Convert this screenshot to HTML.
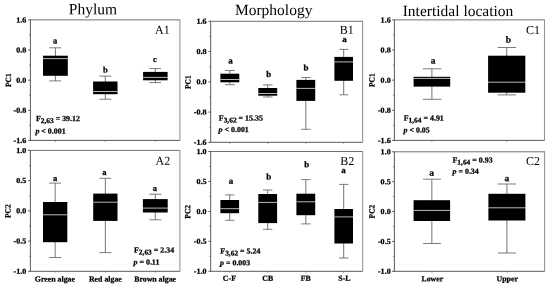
<!DOCTYPE html>
<html><head><meta charset="utf-8"><title>Box plots</title>
<style>
html,body{margin:0;padding:0;background:#fff;}
svg{display:block;font-family:"Liberation Serif",serif;fill:#000;}
text[font-weight="bold"]{stroke:#000;stroke-width:0.25px;}
</style></head><body>
<svg width="550" height="287" viewBox="0 0 550 287">
<rect width="550" height="287" fill="#fff"/>
<text transform="translate(68.80,14.20) rotate(0.03)" font-size="15.5" text-anchor="start" font-weight="normal" >Phylum</text>
<text transform="translate(234.90,15.00) rotate(0.03)" font-size="15.5" text-anchor="start" font-weight="normal" >Morphology</text>
<text transform="translate(402.70,16.00) rotate(0.03)" font-size="15.5" text-anchor="start" font-weight="normal" >Intertidal location</text>
<line x1="30.40" y1="19.40" x2="30.40" y2="140.90" stroke="#5a5a5a" stroke-width="1"/>
<line x1="30.40" y1="140.40" x2="179.90" y2="140.40" stroke="#5a5a5a" stroke-width="1"/>
<line x1="30.40" y1="19.90" x2="179.90" y2="19.90" stroke="#707070" stroke-width="1"/>
<line x1="179.90" y1="19.40" x2="179.90" y2="140.90" stroke="#969696" stroke-width="1.1"/>
<line x1="28.10" y1="19.90" x2="30.40" y2="19.90" stroke="#5a5a5a" stroke-width="1"/>
<text transform="translate(26.30,22.40) scale(1.05,1) rotate(0.03)" font-size="7.7" text-anchor="end" font-weight="bold" >1.6</text>
<line x1="29.10" y1="34.96" x2="30.40" y2="34.96" stroke="#5a5a5a" stroke-width="0.8"/>
<line x1="28.10" y1="50.02" x2="30.40" y2="50.02" stroke="#5a5a5a" stroke-width="1"/>
<text transform="translate(26.30,52.52) scale(1.05,1) rotate(0.03)" font-size="7.7" text-anchor="end" font-weight="bold" >0.8</text>
<line x1="29.10" y1="65.09" x2="30.40" y2="65.09" stroke="#5a5a5a" stroke-width="0.8"/>
<line x1="28.10" y1="80.15" x2="30.40" y2="80.15" stroke="#5a5a5a" stroke-width="1"/>
<text transform="translate(26.30,82.65) scale(1.05,1) rotate(0.03)" font-size="7.7" text-anchor="end" font-weight="bold" >0.0</text>
<line x1="29.10" y1="95.21" x2="30.40" y2="95.21" stroke="#5a5a5a" stroke-width="0.8"/>
<line x1="28.10" y1="110.28" x2="30.40" y2="110.28" stroke="#5a5a5a" stroke-width="1"/>
<text transform="translate(26.30,112.78) scale(1.05,1) rotate(0.03)" font-size="7.7" text-anchor="end" font-weight="bold" >-0.8</text>
<line x1="29.10" y1="125.34" x2="30.40" y2="125.34" stroke="#5a5a5a" stroke-width="0.8"/>
<line x1="28.10" y1="140.40" x2="30.40" y2="140.40" stroke="#5a5a5a" stroke-width="1"/>
<text transform="translate(26.30,142.90) scale(1.05,1) rotate(0.03)" font-size="7.7" text-anchor="end" font-weight="bold" >-1.6</text>
<text transform="translate(10.90,80.15) rotate(-90.03) scale(0.935,1)" font-size="8.0" text-anchor="middle" font-weight="bold">PC1</text>
<text transform="translate(155.00,33.80) rotate(0.03)" font-size="12" text-anchor="start" font-weight="normal" >A1</text>
<line x1="55.40" y1="47.80" x2="55.40" y2="80.90" stroke="#5c5c5c" stroke-width="0.85"/>
<line x1="49.20" y1="47.80" x2="61.20" y2="47.80" stroke="#646464" stroke-width="0.85"/>
<line x1="49.20" y1="80.90" x2="61.20" y2="80.90" stroke="#646464" stroke-width="0.85"/>
<rect x="43.00" y="55.70" width="24.80" height="20.10" fill="#000"/>
<line x1="43.00" y1="58.60" x2="67.80" y2="58.60" stroke="#e8e8e8" stroke-width="0.8"/>
<text transform="translate(55.20,43.40) scale(1.02,1) rotate(0.03)" font-size="8.4" text-anchor="middle" font-weight="bold" >a</text>
<line x1="55.40" y1="140.40" x2="55.40" y2="141.70" stroke="#5a5a5a" stroke-width="0.8"/>
<line x1="105.30" y1="76.10" x2="105.30" y2="99.20" stroke="#5c5c5c" stroke-width="0.85"/>
<line x1="99.40" y1="76.10" x2="111.30" y2="76.10" stroke="#646464" stroke-width="0.85"/>
<line x1="99.40" y1="99.20" x2="111.30" y2="99.20" stroke="#646464" stroke-width="0.85"/>
<rect x="93.10" y="81.50" width="24.40" height="12.70" fill="#000"/>
<line x1="93.10" y1="91.50" x2="117.50" y2="91.50" stroke="#e8e8e8" stroke-width="0.8"/>
<text transform="translate(105.40,72.60) scale(1.02,1) rotate(0.03)" font-size="8.4" text-anchor="middle" font-weight="bold" >b</text>
<line x1="105.30" y1="140.40" x2="105.30" y2="141.70" stroke="#5a5a5a" stroke-width="0.8"/>
<line x1="155.35" y1="68.60" x2="155.35" y2="82.60" stroke="#5c5c5c" stroke-width="0.85"/>
<line x1="149.40" y1="68.60" x2="161.00" y2="68.60" stroke="#646464" stroke-width="0.85"/>
<line x1="149.40" y1="82.60" x2="161.00" y2="82.60" stroke="#646464" stroke-width="0.85"/>
<rect x="143.10" y="71.90" width="24.50" height="8.40" fill="#000"/>
<line x1="143.10" y1="77.40" x2="167.60" y2="77.40" stroke="#e8e8e8" stroke-width="0.8"/>
<text transform="translate(154.80,62.10) scale(1.02,1) rotate(0.03)" font-size="8.4" text-anchor="middle" font-weight="bold" >c</text>
<line x1="155.35" y1="140.40" x2="155.35" y2="141.70" stroke="#5a5a5a" stroke-width="0.8"/>
<text transform="translate(35.90,121.10) scale(1.03,1) rotate(0.03)" font-size="7.7" font-weight="bold">F<tspan dy="2.0" font-size="7.2">2,63</tspan><tspan dy="-2.0"> = 39.12</tspan></text>
<text transform="translate(35.40,133.50) scale(1.03,1) rotate(0.03)" font-size="7.7" font-weight="bold"><tspan font-style="italic">p</tspan> &lt; 0.001</text>
<line x1="30.40" y1="149.90" x2="30.40" y2="271.80" stroke="#5a5a5a" stroke-width="1"/>
<line x1="30.40" y1="271.30" x2="179.90" y2="271.30" stroke="#5a5a5a" stroke-width="1"/>
<line x1="30.40" y1="150.40" x2="179.90" y2="150.40" stroke="#707070" stroke-width="1"/>
<line x1="179.90" y1="149.90" x2="179.90" y2="271.80" stroke="#969696" stroke-width="1.1"/>
<line x1="28.10" y1="150.40" x2="30.40" y2="150.40" stroke="#5a5a5a" stroke-width="1"/>
<text transform="translate(26.30,152.90) scale(1.05,1) rotate(0.03)" font-size="7.7" text-anchor="end" font-weight="bold" >1.0</text>
<line x1="29.10" y1="165.51" x2="30.40" y2="165.51" stroke="#5a5a5a" stroke-width="0.8"/>
<line x1="28.10" y1="180.62" x2="30.40" y2="180.62" stroke="#5a5a5a" stroke-width="1"/>
<text transform="translate(26.30,183.12) scale(1.05,1) rotate(0.03)" font-size="7.7" text-anchor="end" font-weight="bold" >0.5</text>
<line x1="29.10" y1="195.74" x2="30.40" y2="195.74" stroke="#5a5a5a" stroke-width="0.8"/>
<line x1="28.10" y1="210.85" x2="30.40" y2="210.85" stroke="#5a5a5a" stroke-width="1"/>
<text transform="translate(26.30,213.35) scale(1.05,1) rotate(0.03)" font-size="7.7" text-anchor="end" font-weight="bold" >0.0</text>
<line x1="29.10" y1="225.96" x2="30.40" y2="225.96" stroke="#5a5a5a" stroke-width="0.8"/>
<line x1="28.10" y1="241.08" x2="30.40" y2="241.08" stroke="#5a5a5a" stroke-width="1"/>
<text transform="translate(26.30,243.58) scale(1.05,1) rotate(0.03)" font-size="7.7" text-anchor="end" font-weight="bold" >-0.5</text>
<line x1="29.10" y1="256.19" x2="30.40" y2="256.19" stroke="#5a5a5a" stroke-width="0.8"/>
<line x1="28.10" y1="271.30" x2="30.40" y2="271.30" stroke="#5a5a5a" stroke-width="1"/>
<text transform="translate(26.30,273.80) scale(1.05,1) rotate(0.03)" font-size="7.7" text-anchor="end" font-weight="bold" >-1.0</text>
<text transform="translate(10.50,211.15) rotate(-90.03) scale(0.935,1)" font-size="8.0" text-anchor="middle" font-weight="bold">PC2</text>
<text transform="translate(155.50,164.70) rotate(0.03)" font-size="12" text-anchor="start" font-weight="normal" >A2</text>
<line x1="55.15" y1="183.10" x2="55.15" y2="257.50" stroke="#5c5c5c" stroke-width="0.85"/>
<line x1="49.10" y1="183.10" x2="61.10" y2="183.10" stroke="#646464" stroke-width="0.85"/>
<line x1="49.10" y1="257.50" x2="61.10" y2="257.50" stroke="#646464" stroke-width="0.85"/>
<rect x="43.00" y="202.00" width="24.30" height="40.20" fill="#000"/>
<line x1="43.00" y1="214.80" x2="67.30" y2="214.80" stroke="#e8e8e8" stroke-width="0.8"/>
<text transform="translate(55.10,181.00) scale(1.02,1) rotate(0.03)" font-size="8.4" text-anchor="middle" font-weight="bold" >a</text>
<line x1="55.15" y1="271.30" x2="55.15" y2="272.60" stroke="#5a5a5a" stroke-width="0.8"/>
<line x1="105.35" y1="178.30" x2="105.35" y2="252.60" stroke="#5c5c5c" stroke-width="0.85"/>
<line x1="99.30" y1="178.30" x2="111.20" y2="178.30" stroke="#646464" stroke-width="0.85"/>
<line x1="99.30" y1="252.60" x2="111.20" y2="252.60" stroke="#646464" stroke-width="0.85"/>
<rect x="93.20" y="193.60" width="24.30" height="27.30" fill="#000"/>
<line x1="93.20" y1="202.20" x2="117.50" y2="202.20" stroke="#e8e8e8" stroke-width="0.8"/>
<text transform="translate(104.40,175.00) scale(1.02,1) rotate(0.03)" font-size="8.4" text-anchor="middle" font-weight="bold" >a</text>
<line x1="105.35" y1="271.30" x2="105.35" y2="272.60" stroke="#5a5a5a" stroke-width="0.8"/>
<line x1="155.30" y1="194.20" x2="155.30" y2="219.80" stroke="#5c5c5c" stroke-width="0.85"/>
<line x1="149.30" y1="194.20" x2="161.30" y2="194.20" stroke="#646464" stroke-width="0.85"/>
<line x1="149.30" y1="219.80" x2="161.30" y2="219.80" stroke="#646464" stroke-width="0.85"/>
<rect x="142.90" y="199.10" width="24.80" height="13.40" fill="#000"/>
<line x1="142.90" y1="208.10" x2="167.70" y2="208.10" stroke="#e8e8e8" stroke-width="0.8"/>
<text transform="translate(154.90,190.90) scale(1.02,1) rotate(0.03)" font-size="8.4" text-anchor="middle" font-weight="bold" >a</text>
<line x1="155.30" y1="271.30" x2="155.30" y2="272.60" stroke="#5a5a5a" stroke-width="0.8"/>
<text transform="translate(134.00,252.50) scale(1.03,1) rotate(0.03)" font-size="7.7" font-weight="bold">F<tspan dy="2.0" font-size="7.2">2,63</tspan><tspan dy="-2.0"> = 2.34</tspan></text>
<text transform="translate(133.50,264.40) scale(1.03,1) rotate(0.03)" font-size="7.7" font-weight="bold"><tspan font-style="italic">p</tspan> = 0.11</text>
<text transform="translate(54.90,281.50) scale(1.02,1) rotate(0.03)" font-size="7.7" text-anchor="middle" font-weight="bold" >Green algae</text>
<text transform="translate(105.40,281.50) scale(1.02,1) rotate(0.03)" font-size="7.7" text-anchor="middle" font-weight="bold" >Red algae</text>
<text transform="translate(155.10,281.50) scale(1.02,1) rotate(0.03)" font-size="7.7" text-anchor="middle" font-weight="bold" >Brown algae</text>
<line x1="210.70" y1="20.80" x2="210.70" y2="142.80" stroke="#5a5a5a" stroke-width="1"/>
<line x1="210.70" y1="142.30" x2="362.60" y2="142.30" stroke="#5a5a5a" stroke-width="1"/>
<line x1="210.70" y1="21.30" x2="362.60" y2="21.30" stroke="#707070" stroke-width="1"/>
<line x1="362.60" y1="20.80" x2="362.60" y2="142.80" stroke="#969696" stroke-width="1.1"/>
<line x1="208.40" y1="21.30" x2="210.70" y2="21.30" stroke="#5a5a5a" stroke-width="1"/>
<text transform="translate(206.60,23.80) scale(1.05,1) rotate(0.03)" font-size="7.7" text-anchor="end" font-weight="bold" >1.6</text>
<line x1="209.40" y1="36.43" x2="210.70" y2="36.43" stroke="#5a5a5a" stroke-width="0.8"/>
<line x1="208.40" y1="51.55" x2="210.70" y2="51.55" stroke="#5a5a5a" stroke-width="1"/>
<text transform="translate(206.60,54.05) scale(1.05,1) rotate(0.03)" font-size="7.7" text-anchor="end" font-weight="bold" >0.8</text>
<line x1="209.40" y1="66.68" x2="210.70" y2="66.68" stroke="#5a5a5a" stroke-width="0.8"/>
<line x1="208.40" y1="81.80" x2="210.70" y2="81.80" stroke="#5a5a5a" stroke-width="1"/>
<text transform="translate(206.60,84.30) scale(1.05,1) rotate(0.03)" font-size="7.7" text-anchor="end" font-weight="bold" >0.0</text>
<line x1="209.40" y1="96.93" x2="210.70" y2="96.93" stroke="#5a5a5a" stroke-width="0.8"/>
<line x1="208.40" y1="112.05" x2="210.70" y2="112.05" stroke="#5a5a5a" stroke-width="1"/>
<text transform="translate(206.60,114.55) scale(1.05,1) rotate(0.03)" font-size="7.7" text-anchor="end" font-weight="bold" >-0.8</text>
<line x1="209.40" y1="127.18" x2="210.70" y2="127.18" stroke="#5a5a5a" stroke-width="0.8"/>
<line x1="208.40" y1="142.30" x2="210.70" y2="142.30" stroke="#5a5a5a" stroke-width="1"/>
<text transform="translate(206.60,144.80) scale(1.05,1) rotate(0.03)" font-size="7.7" text-anchor="end" font-weight="bold" >-1.6</text>
<text transform="translate(190.60,82.20) rotate(-90.03) scale(0.935,1)" font-size="8.0" text-anchor="middle" font-weight="bold">PC1</text>
<text transform="translate(339.80,33.70) rotate(0.03)" font-size="12" text-anchor="start" font-weight="normal" >B1</text>
<line x1="229.85" y1="70.50" x2="229.85" y2="84.70" stroke="#5c5c5c" stroke-width="0.85"/>
<line x1="225.00" y1="70.50" x2="234.80" y2="70.50" stroke="#646464" stroke-width="0.85"/>
<line x1="225.00" y1="84.70" x2="234.80" y2="84.70" stroke="#646464" stroke-width="0.85"/>
<rect x="220.40" y="73.70" width="18.90" height="8.60" fill="#000"/>
<line x1="220.40" y1="79.50" x2="239.30" y2="79.50" stroke="#e8e8e8" stroke-width="0.8"/>
<text transform="translate(230.50,63.40) scale(1.02,1) rotate(0.03)" font-size="8.8" text-anchor="middle" font-weight="bold" >a</text>
<line x1="229.85" y1="142.30" x2="229.85" y2="143.60" stroke="#5a5a5a" stroke-width="0.8"/>
<line x1="267.75" y1="84.90" x2="267.75" y2="97.00" stroke="#5c5c5c" stroke-width="0.85"/>
<line x1="263.00" y1="84.90" x2="272.60" y2="84.90" stroke="#646464" stroke-width="0.85"/>
<line x1="263.00" y1="97.00" x2="272.60" y2="97.00" stroke="#646464" stroke-width="0.85"/>
<rect x="258.30" y="88.00" width="18.90" height="7.70" fill="#000"/>
<line x1="258.30" y1="93.50" x2="277.20" y2="93.50" stroke="#e8e8e8" stroke-width="0.8"/>
<text transform="translate(268.70,76.90) scale(1.02,1) rotate(0.03)" font-size="8.8" text-anchor="middle" font-weight="bold" >b</text>
<line x1="267.75" y1="142.30" x2="267.75" y2="143.60" stroke="#5a5a5a" stroke-width="0.8"/>
<line x1="305.80" y1="77.50" x2="305.80" y2="129.30" stroke="#5c5c5c" stroke-width="0.85"/>
<line x1="301.20" y1="77.50" x2="310.40" y2="77.50" stroke="#646464" stroke-width="0.85"/>
<line x1="301.20" y1="129.30" x2="310.40" y2="129.30" stroke="#646464" stroke-width="0.85"/>
<rect x="296.40" y="79.90" width="18.80" height="21.00" fill="#000"/>
<line x1="296.40" y1="88.40" x2="315.20" y2="88.40" stroke="#e8e8e8" stroke-width="0.8"/>
<text transform="translate(306.00,70.60) scale(1.02,1) rotate(0.03)" font-size="8.8" text-anchor="middle" font-weight="bold" >b</text>
<line x1="305.80" y1="142.30" x2="305.80" y2="143.60" stroke="#5a5a5a" stroke-width="0.8"/>
<line x1="343.70" y1="49.40" x2="343.70" y2="94.80" stroke="#5c5c5c" stroke-width="0.85"/>
<line x1="339.40" y1="49.40" x2="348.30" y2="49.40" stroke="#646464" stroke-width="0.85"/>
<line x1="339.40" y1="94.80" x2="348.30" y2="94.80" stroke="#646464" stroke-width="0.85"/>
<rect x="334.40" y="56.90" width="18.60" height="23.90" fill="#000"/>
<line x1="334.40" y1="61.90" x2="353.00" y2="61.90" stroke="#e8e8e8" stroke-width="0.8"/>
<text transform="translate(344.40,41.90) scale(1.02,1) rotate(0.03)" font-size="8.8" text-anchor="middle" font-weight="bold" >a</text>
<line x1="343.70" y1="142.30" x2="343.70" y2="143.60" stroke="#5a5a5a" stroke-width="0.8"/>
<text transform="translate(218.80,120.40) scale(1.03,1) rotate(0.03)" font-size="7.7" font-weight="bold">F<tspan dy="2.0" font-size="7.2">3,62</tspan><tspan dy="-2.0"> = 15.35</tspan></text>
<text transform="translate(218.60,132.10) scale(1.03,1) rotate(0.03)" font-size="7.7" font-weight="bold"><tspan font-style="italic">p</tspan> &lt; 0.001</text>
<line x1="210.70" y1="151.00" x2="210.70" y2="271.80" stroke="#5a5a5a" stroke-width="1"/>
<line x1="210.70" y1="271.30" x2="362.70" y2="271.30" stroke="#5a5a5a" stroke-width="1"/>
<line x1="210.70" y1="151.50" x2="362.70" y2="151.50" stroke="#707070" stroke-width="1"/>
<line x1="362.70" y1="151.00" x2="362.70" y2="271.80" stroke="#969696" stroke-width="1.1"/>
<line x1="208.40" y1="151.50" x2="210.70" y2="151.50" stroke="#5a5a5a" stroke-width="1"/>
<text transform="translate(206.60,154.00) scale(1.05,1) rotate(0.03)" font-size="7.7" text-anchor="end" font-weight="bold" >1.0</text>
<line x1="209.40" y1="166.47" x2="210.70" y2="166.47" stroke="#5a5a5a" stroke-width="0.8"/>
<line x1="208.40" y1="181.45" x2="210.70" y2="181.45" stroke="#5a5a5a" stroke-width="1"/>
<text transform="translate(206.60,183.95) scale(1.05,1) rotate(0.03)" font-size="7.7" text-anchor="end" font-weight="bold" >0.5</text>
<line x1="209.40" y1="196.42" x2="210.70" y2="196.42" stroke="#5a5a5a" stroke-width="0.8"/>
<line x1="208.40" y1="211.40" x2="210.70" y2="211.40" stroke="#5a5a5a" stroke-width="1"/>
<text transform="translate(206.60,213.90) scale(1.05,1) rotate(0.03)" font-size="7.7" text-anchor="end" font-weight="bold" >0.0</text>
<line x1="209.40" y1="226.38" x2="210.70" y2="226.38" stroke="#5a5a5a" stroke-width="0.8"/>
<line x1="208.40" y1="241.35" x2="210.70" y2="241.35" stroke="#5a5a5a" stroke-width="1"/>
<text transform="translate(206.60,243.85) scale(1.05,1) rotate(0.03)" font-size="7.7" text-anchor="end" font-weight="bold" >-0.5</text>
<line x1="209.40" y1="256.33" x2="210.70" y2="256.33" stroke="#5a5a5a" stroke-width="0.8"/>
<line x1="208.40" y1="271.30" x2="210.70" y2="271.30" stroke="#5a5a5a" stroke-width="1"/>
<text transform="translate(206.60,273.80) scale(1.05,1) rotate(0.03)" font-size="7.7" text-anchor="end" font-weight="bold" >-1.0</text>
<text transform="translate(190.30,211.80) rotate(-90.03) scale(0.935,1)" font-size="8.0" text-anchor="middle" font-weight="bold">PC2</text>
<text transform="translate(340.20,165.00) rotate(0.03)" font-size="12" text-anchor="start" font-weight="normal" >B2</text>
<line x1="229.75" y1="194.90" x2="229.75" y2="220.30" stroke="#5c5c5c" stroke-width="0.85"/>
<line x1="225.20" y1="194.90" x2="234.40" y2="194.90" stroke="#646464" stroke-width="0.85"/>
<line x1="225.20" y1="220.30" x2="234.40" y2="220.30" stroke="#646464" stroke-width="0.85"/>
<rect x="220.40" y="200.00" width="18.70" height="13.20" fill="#000"/>
<line x1="220.40" y1="208.70" x2="239.10" y2="208.70" stroke="#e8e8e8" stroke-width="0.8"/>
<text transform="translate(231.00,183.80) scale(1.02,1) rotate(0.03)" font-size="8.8" text-anchor="middle" font-weight="bold" >a</text>
<line x1="229.75" y1="271.30" x2="229.75" y2="272.60" stroke="#5a5a5a" stroke-width="0.8"/>
<line x1="267.70" y1="190.00" x2="267.70" y2="229.30" stroke="#5c5c5c" stroke-width="0.85"/>
<line x1="263.00" y1="190.00" x2="272.40" y2="190.00" stroke="#646464" stroke-width="0.85"/>
<line x1="263.00" y1="229.30" x2="272.40" y2="229.30" stroke="#646464" stroke-width="0.85"/>
<rect x="258.30" y="194.00" width="18.80" height="29.10" fill="#000"/>
<line x1="258.30" y1="202.40" x2="277.10" y2="202.40" stroke="#e8e8e8" stroke-width="0.8"/>
<text transform="translate(268.70,179.60) scale(1.02,1) rotate(0.03)" font-size="8.8" text-anchor="middle" font-weight="bold" >b</text>
<line x1="267.70" y1="271.30" x2="267.70" y2="272.60" stroke="#5a5a5a" stroke-width="0.8"/>
<line x1="305.80" y1="179.60" x2="305.80" y2="223.90" stroke="#5c5c5c" stroke-width="0.85"/>
<line x1="301.10" y1="179.60" x2="310.50" y2="179.60" stroke="#646464" stroke-width="0.85"/>
<line x1="301.10" y1="223.90" x2="310.50" y2="223.90" stroke="#646464" stroke-width="0.85"/>
<rect x="296.40" y="193.70" width="18.80" height="21.50" fill="#000"/>
<line x1="296.40" y1="201.80" x2="315.20" y2="201.80" stroke="#e8e8e8" stroke-width="0.8"/>
<text transform="translate(306.80,167.20) scale(1.02,1) rotate(0.03)" font-size="8.8" text-anchor="middle" font-weight="bold" >b</text>
<line x1="305.80" y1="271.30" x2="305.80" y2="272.60" stroke="#5a5a5a" stroke-width="0.8"/>
<line x1="343.70" y1="184.40" x2="343.70" y2="258.00" stroke="#5c5c5c" stroke-width="0.85"/>
<line x1="339.20" y1="184.40" x2="348.40" y2="184.40" stroke="#646464" stroke-width="0.85"/>
<line x1="339.20" y1="258.00" x2="348.40" y2="258.00" stroke="#646464" stroke-width="0.85"/>
<rect x="334.40" y="209.00" width="18.60" height="34.50" fill="#000"/>
<line x1="334.40" y1="216.90" x2="353.00" y2="216.90" stroke="#e8e8e8" stroke-width="0.8"/>
<text transform="translate(343.60,173.00) scale(1.02,1) rotate(0.03)" font-size="8.8" text-anchor="middle" font-weight="bold" >a</text>
<line x1="343.70" y1="271.30" x2="343.70" y2="272.60" stroke="#5a5a5a" stroke-width="0.8"/>
<text transform="translate(220.30,253.50) scale(1.03,1) rotate(0.03)" font-size="7.7" font-weight="bold">F<tspan dy="2.0" font-size="7.2">3,62</tspan><tspan dy="-2.0"> = 5.24</tspan></text>
<text transform="translate(220.00,265.20) scale(1.03,1) rotate(0.03)" font-size="7.7" font-weight="bold"><tspan font-style="italic">p</tspan> = 0.003</text>
<text transform="translate(229.40,280.80) scale(1.02,1) rotate(0.03)" font-size="7.7" text-anchor="middle" font-weight="bold" >C-F</text>
<text transform="translate(267.70,280.80) scale(1.02,1) rotate(0.03)" font-size="7.7" text-anchor="middle" font-weight="bold" >CB</text>
<text transform="translate(305.70,280.80) scale(1.02,1) rotate(0.03)" font-size="7.7" text-anchor="middle" font-weight="bold" >FB</text>
<text transform="translate(344.40,280.80) scale(1.02,1) rotate(0.03)" font-size="7.7" text-anchor="middle" font-weight="bold" >S-L</text>
<line x1="394.40" y1="19.40" x2="394.40" y2="140.90" stroke="#5a5a5a" stroke-width="1"/>
<line x1="394.40" y1="140.40" x2="544.50" y2="140.40" stroke="#5a5a5a" stroke-width="1"/>
<line x1="394.40" y1="19.90" x2="544.50" y2="19.90" stroke="#707070" stroke-width="1"/>
<line x1="544.50" y1="19.40" x2="544.50" y2="140.90" stroke="#969696" stroke-width="1.1"/>
<line x1="392.10" y1="19.90" x2="394.40" y2="19.90" stroke="#5a5a5a" stroke-width="1"/>
<text transform="translate(390.70,22.40) scale(1.05,1) rotate(0.03)" font-size="7.7" text-anchor="end" font-weight="bold" >1.6</text>
<line x1="393.10" y1="34.96" x2="394.40" y2="34.96" stroke="#5a5a5a" stroke-width="0.8"/>
<line x1="392.10" y1="50.02" x2="394.40" y2="50.02" stroke="#5a5a5a" stroke-width="1"/>
<text transform="translate(390.70,52.52) scale(1.05,1) rotate(0.03)" font-size="7.7" text-anchor="end" font-weight="bold" >0.8</text>
<line x1="393.10" y1="65.09" x2="394.40" y2="65.09" stroke="#5a5a5a" stroke-width="0.8"/>
<line x1="392.10" y1="80.15" x2="394.40" y2="80.15" stroke="#5a5a5a" stroke-width="1"/>
<text transform="translate(390.70,82.65) scale(1.05,1) rotate(0.03)" font-size="7.7" text-anchor="end" font-weight="bold" >0.0</text>
<line x1="393.10" y1="95.21" x2="394.40" y2="95.21" stroke="#5a5a5a" stroke-width="0.8"/>
<line x1="392.10" y1="110.28" x2="394.40" y2="110.28" stroke="#5a5a5a" stroke-width="1"/>
<text transform="translate(390.70,112.78) scale(1.05,1) rotate(0.03)" font-size="7.7" text-anchor="end" font-weight="bold" >-0.8</text>
<line x1="393.10" y1="125.34" x2="394.40" y2="125.34" stroke="#5a5a5a" stroke-width="0.8"/>
<line x1="392.10" y1="140.40" x2="394.40" y2="140.40" stroke="#5a5a5a" stroke-width="1"/>
<text transform="translate(390.70,142.90) scale(1.05,1) rotate(0.03)" font-size="7.7" text-anchor="end" font-weight="bold" >-1.6</text>
<text transform="translate(374.60,80.15) rotate(-90.03) scale(0.935,1)" font-size="8.0" text-anchor="middle" font-weight="bold">PC1</text>
<text transform="translate(526.00,34.00) rotate(0.03)" font-size="12" text-anchor="start" font-weight="normal" >C1</text>
<line x1="431.90" y1="68.80" x2="431.90" y2="99.30" stroke="#5c5c5c" stroke-width="0.85"/>
<line x1="422.80" y1="68.80" x2="441.30" y2="68.80" stroke="#646464" stroke-width="0.85"/>
<line x1="422.80" y1="99.30" x2="441.30" y2="99.30" stroke="#646464" stroke-width="0.85"/>
<rect x="413.60" y="76.80" width="36.60" height="9.80" fill="#000"/>
<line x1="413.60" y1="78.40" x2="450.20" y2="78.40" stroke="#e8e8e8" stroke-width="0.8"/>
<text transform="translate(433.10,63.50) scale(1.02,1) rotate(0.03)" font-size="9.3" text-anchor="middle" font-weight="bold" >a</text>
<line x1="431.90" y1="140.40" x2="431.90" y2="141.70" stroke="#5a5a5a" stroke-width="0.8"/>
<line x1="506.70" y1="47.50" x2="506.70" y2="94.90" stroke="#5c5c5c" stroke-width="0.85"/>
<line x1="497.70" y1="47.50" x2="516.00" y2="47.50" stroke="#646464" stroke-width="0.85"/>
<line x1="497.70" y1="94.90" x2="516.00" y2="94.90" stroke="#646464" stroke-width="0.85"/>
<rect x="488.10" y="55.70" width="37.20" height="37.00" fill="#000"/>
<line x1="488.10" y1="82.20" x2="525.30" y2="82.20" stroke="#e8e8e8" stroke-width="0.8"/>
<text transform="translate(508.50,42.40) scale(1.02,1) rotate(0.03)" font-size="9.3" text-anchor="middle" font-weight="bold" >b</text>
<line x1="506.70" y1="140.40" x2="506.70" y2="141.70" stroke="#5a5a5a" stroke-width="0.8"/>
<text transform="translate(403.70,120.60) scale(1.03,1) rotate(0.03)" font-size="7.7" font-weight="bold">F<tspan dy="2.0" font-size="7.2">1,64</tspan><tspan dy="-2.0"> = 4.91</tspan></text>
<text transform="translate(403.50,132.50) scale(1.03,1) rotate(0.03)" font-size="7.7" font-weight="bold"><tspan font-style="italic">p</tspan> &lt; 0.05</text>
<line x1="394.40" y1="151.30" x2="394.40" y2="271.80" stroke="#5a5a5a" stroke-width="1"/>
<line x1="394.40" y1="271.30" x2="544.60" y2="271.30" stroke="#5a5a5a" stroke-width="1"/>
<line x1="394.40" y1="151.80" x2="544.60" y2="151.80" stroke="#707070" stroke-width="1"/>
<line x1="544.60" y1="151.30" x2="544.60" y2="271.80" stroke="#969696" stroke-width="1.1"/>
<line x1="392.10" y1="151.80" x2="394.40" y2="151.80" stroke="#5a5a5a" stroke-width="1"/>
<text transform="translate(390.70,154.30) scale(1.05,1) rotate(0.03)" font-size="7.7" text-anchor="end" font-weight="bold" >1.0</text>
<line x1="393.10" y1="166.74" x2="394.40" y2="166.74" stroke="#5a5a5a" stroke-width="0.8"/>
<line x1="392.10" y1="181.68" x2="394.40" y2="181.68" stroke="#5a5a5a" stroke-width="1"/>
<text transform="translate(390.70,184.18) scale(1.05,1) rotate(0.03)" font-size="7.7" text-anchor="end" font-weight="bold" >0.5</text>
<line x1="393.10" y1="196.61" x2="394.40" y2="196.61" stroke="#5a5a5a" stroke-width="0.8"/>
<line x1="392.10" y1="211.55" x2="394.40" y2="211.55" stroke="#5a5a5a" stroke-width="1"/>
<text transform="translate(390.70,214.05) scale(1.05,1) rotate(0.03)" font-size="7.7" text-anchor="end" font-weight="bold" >0.0</text>
<line x1="393.10" y1="226.49" x2="394.40" y2="226.49" stroke="#5a5a5a" stroke-width="0.8"/>
<line x1="392.10" y1="241.43" x2="394.40" y2="241.43" stroke="#5a5a5a" stroke-width="1"/>
<text transform="translate(390.70,243.93) scale(1.05,1) rotate(0.03)" font-size="7.7" text-anchor="end" font-weight="bold" >-0.5</text>
<line x1="393.10" y1="256.36" x2="394.40" y2="256.36" stroke="#5a5a5a" stroke-width="0.8"/>
<line x1="392.10" y1="271.30" x2="394.40" y2="271.30" stroke="#5a5a5a" stroke-width="1"/>
<text transform="translate(390.70,273.80) scale(1.05,1) rotate(0.03)" font-size="7.7" text-anchor="end" font-weight="bold" >-1.0</text>
<text transform="translate(374.60,211.55) rotate(-90.03) scale(0.935,1)" font-size="8.0" text-anchor="middle" font-weight="bold">PC2</text>
<text transform="translate(526.00,164.90) rotate(0.03)" font-size="12" text-anchor="start" font-weight="normal" >C2</text>
<line x1="431.85" y1="179.20" x2="431.85" y2="243.50" stroke="#5c5c5c" stroke-width="0.85"/>
<line x1="423.10" y1="179.20" x2="440.90" y2="179.20" stroke="#646464" stroke-width="0.85"/>
<line x1="423.10" y1="243.50" x2="440.90" y2="243.50" stroke="#646464" stroke-width="0.85"/>
<rect x="413.60" y="200.20" width="36.50" height="20.80" fill="#000"/>
<line x1="413.60" y1="210.40" x2="450.10" y2="210.40" stroke="#e8e8e8" stroke-width="0.8"/>
<text transform="translate(431.60,175.80) scale(1.02,1) rotate(0.03)" font-size="9.3" text-anchor="middle" font-weight="bold" >a</text>
<line x1="431.85" y1="271.30" x2="431.85" y2="272.60" stroke="#5a5a5a" stroke-width="0.8"/>
<line x1="506.90" y1="184.00" x2="506.90" y2="253.00" stroke="#5c5c5c" stroke-width="0.85"/>
<line x1="498.00" y1="184.00" x2="516.00" y2="184.00" stroke="#646464" stroke-width="0.85"/>
<line x1="498.00" y1="253.00" x2="516.00" y2="253.00" stroke="#646464" stroke-width="0.85"/>
<rect x="488.40" y="193.80" width="37.00" height="26.70" fill="#000"/>
<line x1="488.40" y1="207.80" x2="525.40" y2="207.80" stroke="#e8e8e8" stroke-width="0.8"/>
<text transform="translate(506.90,181.20) scale(1.02,1) rotate(0.03)" font-size="9.3" text-anchor="middle" font-weight="bold" >a</text>
<line x1="506.90" y1="271.30" x2="506.90" y2="272.60" stroke="#5a5a5a" stroke-width="0.8"/>
<text transform="translate(452.50,162.60) scale(1.03,1) rotate(0.03)" font-size="7.7" font-weight="bold">F<tspan dy="2.0" font-size="7.2">1,64</tspan><tspan dy="-2.0"> = 0.93</tspan></text>
<text transform="translate(452.50,173.80) scale(1.03,1) rotate(0.03)" font-size="7.7" font-weight="bold"><tspan font-style="italic">p</tspan> = 0.34</text>
<text transform="translate(432.30,281.30) scale(1.02,1) rotate(0.03)" font-size="7.7" text-anchor="middle" font-weight="bold" >Lower</text>
<text transform="translate(507.20,281.20) scale(1.02,1) rotate(0.03)" font-size="7.7" text-anchor="middle" font-weight="bold" >Upper</text>
</svg>
</body></html>
